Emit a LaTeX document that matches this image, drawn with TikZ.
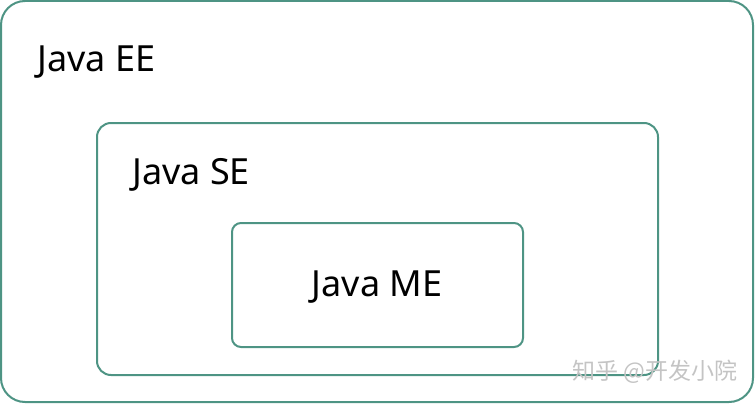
\documentclass[tikz,border=0pt]{standalone}
\usepackage{fontspec}
\setmainfont{Noto Sans}
\newfontfamily\cjk{Noto Sans CJK SC}
\usetikzlibrary{positioning}
\definecolor{rand}{HTML}{4E9484}
\definecolor{grau}{HTML}{C4C4C4}
\begin{document}
\begin{tikzpicture}[x=1pt,y=-1pt,
kasten/.style={draw=rand,line width=2pt},
titel/.style={anchor=west,font=\fontsize{36}{40}\selectfont,inner sep=0pt},
marke/.style={font=\cjk\fontsize{23}{26}\selectfont,text=grau,inner sep=0pt}
]
\useasboundingbox (0,0) rectangle (755,404);
%--
\draw[kasten,rounded corners=24pt] (1,1) rectangle (753,402);
\node[titel] (ee) at (37,62){Java EE};
%--
\draw[kasten,rounded corners=14pt] (97,123) rectangle (658,375);
\node[titel] (se) at (132,175){Java SE};
%--
\draw[kasten,rounded corners=9pt] (232,223) rectangle (523,347);
\node[titel,anchor=center] (me) at (377,287){Java ME};
%--
\node[marke] (zh) at (655,372){知乎 @开发小院};
\end{tikzpicture}
\end{document}
